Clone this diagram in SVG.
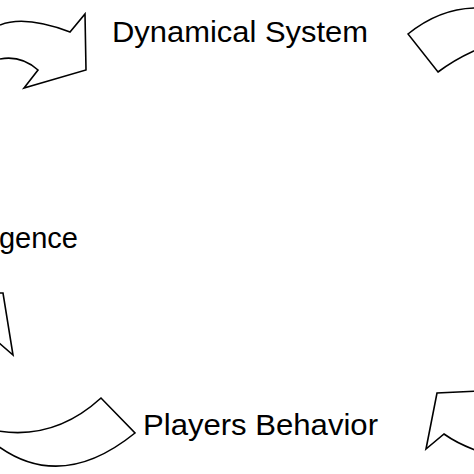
<svg xmlns="http://www.w3.org/2000/svg" width="474" height="474" viewBox="0 0 474 474">
<style>
.arrow{fill:#fff;stroke:#000;stroke-width:1.6;stroke-linejoin:miter}
.lbl{font-family:"Liberation Sans",Arial,sans-serif;font-size:29px;fill:#000}
</style>
<rect width="474" height="474" fill="#fff"/>
<g id="connectors">
<path class="arrow" d="M0,25 Q25,15 70,32 L85,14 L86,70 L24,88 L38,70 Q21,55 0,59"/>
<path class="arrow" d="M478,8 L474,8 Q439,9 408,34 L438,72 Q455,59 478,49"/>
<path class="arrow" d="M-2,293 L3,293 L13,355 L-2,342"/>
<path class="arrow" d="M-2,431 Q55,440 101,398 L135,433 Q62,492 -2,446"/>
<path class="arrow" d="M478,391 L437,393 L426,449 L444,434 Q458,444 478,451"/>
</g>
<g id="node-dynamical-system">
<text class="lbl" x="112" y="42" textLength="256" lengthAdjust="spacingAndGlyphs">Dynamical System</text>
</g>
<g id="node-players-behavior">
<text class="lbl" x="143" y="435" textLength="235" lengthAdjust="spacingAndGlyphs">Players Behavior</text>
</g>
<g id="node-gence">
<text class="lbl" x="78" y="248" text-anchor="end">gence</text>
</g>
</svg>
